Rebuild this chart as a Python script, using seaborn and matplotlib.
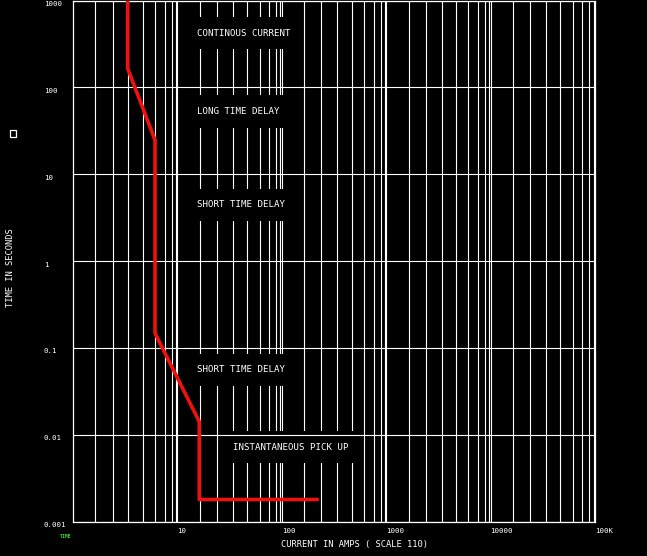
import numpy as np
import pandas as pd
import matplotlib
matplotlib.use("Agg")
import matplotlib.pyplot as plt
import matplotlib.ticker as mticker
from matplotlib.transforms import ScaledTranslation
from matplotlib.patches import Rectangle
import seaborn as sns

# ---- data ----
current_amps = [3.34, 3.34, 6.1, 6.1, 16.2, 16.2, 219]
time_seconds = [1000, 165, 24.8, 0.148, 0.0142, 0.0018, 0.0018]

x_ticks = [10, 100, 1000, 10000, 100000]
x_tick_labels = ["10", "100", "1000", "10000", "100K"]
y_ticks = [1000, 100, 10, 1, 0.1, 0.01, 0.001]
y_tick_labels = ["1000", "100", "10", "1", "0.1", "0.01", "0.001"]

region_labels = ["CONTINOUS CURRENT", "LONG TIME DELAY", "SHORT TIME DELAY",
                 "SHORT TIME DELAY", "INSTANTANEOUS PICK UP"]
region_x = [15.4, 15.4, 15.4, 15.4, 34.1]
region_y = [422, 52.7, 4.43, 0.0558, 0.00724]

# minor grid multipliers within each decade (as drawn in the reference)
minor_mult = [1.639, 2.395, 3.395, 4.663, 6.13, 7.574, 8.84, 9.696]

sns.set_theme(style="dark")
plt.rcParams["font.family"] = ["DejaVu Sans Mono", "DejaVu Sans"]

fig = plt.figure(figsize=(6.47, 5.56), dpi=100, facecolor="black")
ax = fig.add_axes([73 / 647, 1 - 521.7 / 556, (595 - 73) / 647, (521.7 - 0.5) / 556])
ax.set_facecolor("black")

df = pd.DataFrame({"current": current_amps, "time": time_seconds, "order": range(len(current_amps))})
sns.lineplot(data=df, x="current", y="time", sort=False, estimator=None,
             color="#f01010", linewidth=2.6, ax=ax, zorder=6)

ax.set_xscale("log")
ax.set_yscale("log")
ax.set_xlim(1, 100000)
ax.set_ylim(0.001, 1000)

ax.xaxis.set_major_locator(mticker.FixedLocator(x_ticks))
ax.xaxis.set_major_formatter(mticker.FixedFormatter(x_tick_labels))
minor_locs = [m * 10 ** d for d in range(0, 5) for m in minor_mult]
ax.xaxis.set_minor_locator(mticker.FixedLocator(minor_locs))
ax.xaxis.set_minor_formatter(mticker.NullFormatter())
ax.yaxis.set_major_locator(mticker.FixedLocator(y_ticks))
ax.yaxis.set_major_formatter(mticker.FixedFormatter(y_tick_labels))
ax.yaxis.set_minor_locator(mticker.NullLocator())

ax.set_axisbelow(True)
ax.grid(False)
ax.grid(True, which="both", axis="x", color="white", linewidth=0.8)
for yv in y_ticks:
    ax.axhline(yv, color="white", linewidth=0.8, zorder=4)

for s in ax.spines.values():
    s.set_color("white")
    s.set_linewidth(0.9)
    s.set_zorder(5)

ax.tick_params(axis="both", which="both", length=0)
ax.tick_params(axis="x", pad=4.5, labelsize=5.4, labelcolor="white")
ax.tick_params(axis="y", pad=21, labelsize=5.4, labelcolor="white")
for lab in ax.get_xticklabels():
    lab.set_horizontalalignment("left")
for lab in ax.get_yticklabels():
    lab.set_horizontalalignment("left")
    lab.set_transform(lab.get_transform() + ScaledTranslation(0, -3 / 100, fig.dpi_scale_trans))

for txt, xv, yv in zip(region_labels, region_x, region_y):
    ax.text(xv, yv, txt, color="white", fontsize=6.6, ha="left", va="center", zorder=3,
            bbox=dict(boxstyle="square,pad=1.3", facecolor="black", edgecolor="none"))

ax.set_xlabel("CURRENT IN AMPS ( SCALE 110)", color="white", fontsize=6.3)
ax.xaxis.label.set_va("center")
ax.xaxis.set_label_coords(0.539, -0.0447)
ax.set_ylabel("TIME IN SECONDS", color="white", fontsize=6.3)
ax.yaxis.label.set_va("center")
ax.yaxis.set_label_coords(-0.1197, 0.4877)

fig.patches.append(Rectangle((9.5 / 647, 1 - 136.5 / 556), 6.5 / 647, 6.5 / 556,
                             transform=fig.transFigure, facecolor="none",
                             edgecolor="white", linewidth=0.9))
fig.text(66 / 647, 1 - 537 / 556, "TIME", color="#22dd22", fontsize=3.4,
         ha="center", va="center", fontweight="bold")

fig.savefig("out.png", dpi=100, facecolor="black")
